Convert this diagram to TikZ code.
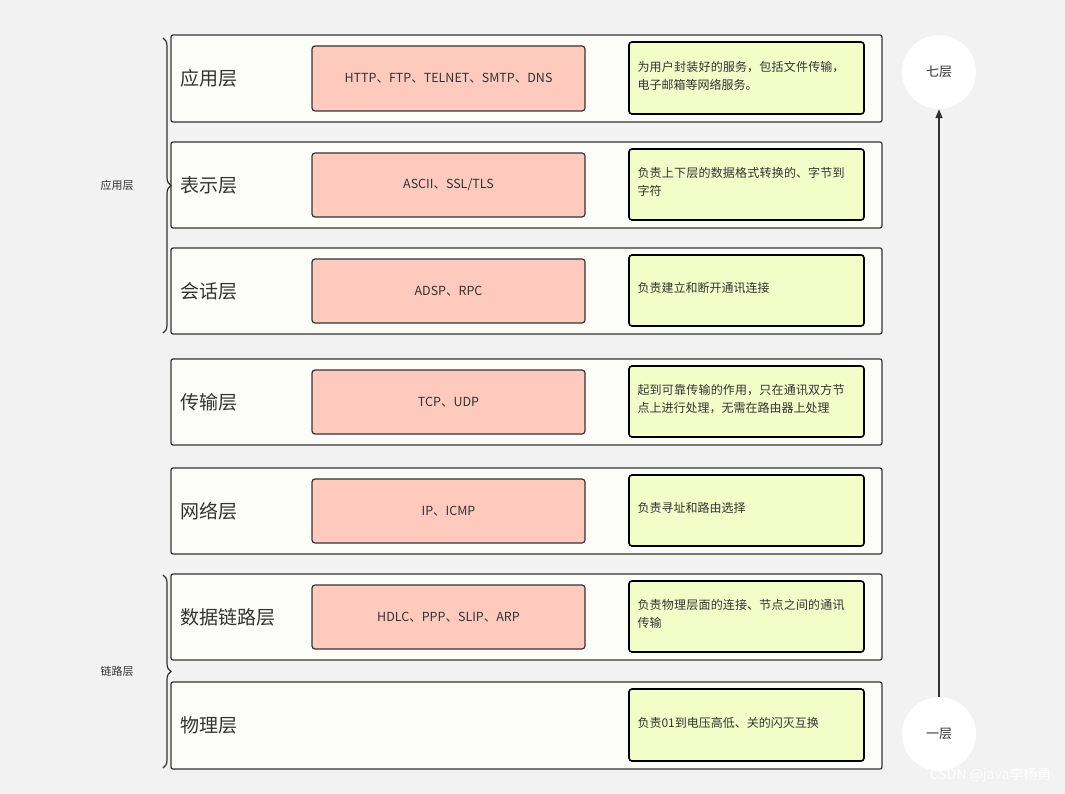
\documentclass[tikz,border=0pt]{standalone}
\usepackage{fontspec}
\setmainfont{Noto Sans CJK SC}
\XeTeXlinebreaklocale "zh"
\XeTeXlinebreakskip=0pt plus 1pt
\usetikzlibrary{decorations.pathreplacing,arrows.meta}
\definecolor{bg}{HTML}{F2F2F2}
\definecolor{rowc}{HTML}{FCFCF9}
\definecolor{pinkc}{HTML}{FFCABE}
\definecolor{greenc}{HTML}{F3FDC8}
\definecolor{ink}{HTML}{333333}
\tikzset{
 rowbox/.style={draw=ink,line width=1.2pt,fill=rowc,rounded corners=2pt},
 protobox/.style={draw=ink,line width=1.2pt,fill=pinkc,rounded corners=3pt,font=\fontsize{12.5}{14}\selectfont,text=ink},
 descbox/.style={draw=black,line width=1.6pt,fill=greenc,rounded corners=3pt},
 lname/.style={anchor=west,font=\fontsize{19}{21}\selectfont,text=ink},
 desc/.style={anchor=west,text width=212pt,align=left,font=\fontsize{12}{18}\selectfont,text=ink},
 circ/.style={circle,fill=white,minimum size=74pt,inner sep=0pt,font=\fontsize{13}{15}\selectfont,text=ink}
}
\begin{document}
\begin{tikzpicture}[x=1pt,y=-1pt]
\fill[bg] (0,0) rectangle (1065,794);
\useasboundingbox (0,0) rectangle (1065,794);
\newcommand{\layerrow}[6]{%
 \draw[rowbox] (171,#1) rectangle (882,#2);
 \node[lname] (n#6) at (177,{(#1+#2)/2}) {#3};
 \ifx&#4&\else
 \node[protobox,minimum width=273pt,minimum height={#2-#1-22}] (p#6) at (448.5,{(#1+#2)/2}) {#4};
 \fi
 \draw[descbox] (629,#1+7) rectangle (864,#2-8);
 \node[desc] (d#6) at (634,{(#1+#2)/2-3}) {#5};
}
\layerrow{35}{122}{应用层}{HTTP、FTP、TELNET、SMTP、DNS}{为用户封装好的服务，包括文件传输，电子邮箱等网络服务。}{a}
\layerrow{142}{228}{表示层}{ASCII、SSL/TLS}{负责上下层的数据格式转换的、字节到字符}{b}
\layerrow{248}{334}{会话层}{ADSP、RPC}{负责建立和断开通讯连接}{c}
\layerrow{359}{445}{传输层}{TCP、UDP}{起到可靠传输的作用，只在通讯双方节点上进行处理，无需在路由器上处理}{d}
\layerrow{468}{554}{网络层}{IP、ICMP}{负责寻址和路由选择}{e}
\layerrow{574}{660}{数据链路层}{HDLC、PPP、SLIP、ARP}{负责物理层面的连接、节点之间的通讯传输}{f}
\layerrow{682}{769}{物理层}{}{负责01到电压高低、关的闪灭互换}{g}
\node[circ] (top) at (939,72) {七层};
\node[circ] (bot) at (939,734) {一层};
\draw[ink,line width=1.5pt,-{Triangle[length=9pt,width=7pt]}] (bot.north) -- (top.south);
\draw[ink,line width=1.2pt,decorate,decoration={brace,amplitude=8pt}] (163,38) -- (163,333);
\draw[ink,line width=1.2pt,decorate,decoration={brace,amplitude=8pt}] (163,575) -- (163,768);
\node[font=\fontsize{11}{13}\selectfont,text=ink] (g1) at (117,185) {应用层};
\node[font=\fontsize{11}{13}\selectfont,text=ink] (g2) at (117,671) {链路层};
\node[font=\fontsize{14}{16}\selectfont,text=white,anchor=east] (wm) at (1055,775) {CSDN @java李杨勇};
\end{tikzpicture}
\end{document}
